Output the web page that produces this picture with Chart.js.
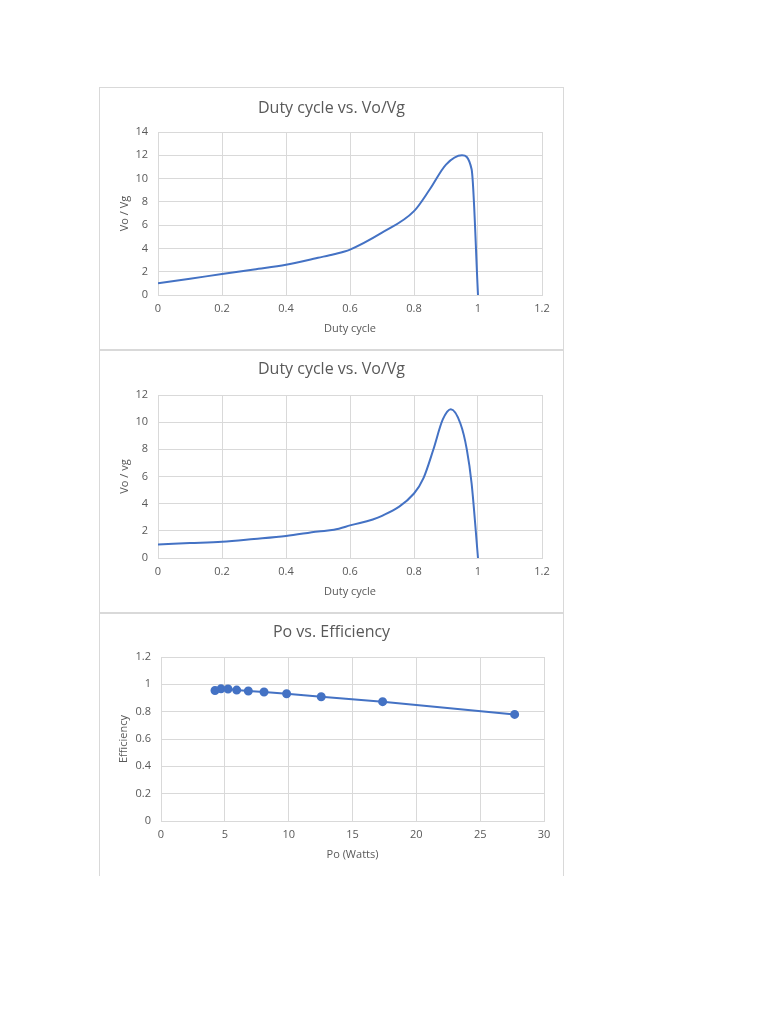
<!DOCTYPE html>
<html>
<head>
<meta charset="utf-8">
<script src="https://cdn.jsdelivr.net/npm/chart.js@4"></script>
<style>
  body { margin: 0; background: #fff; }
  .frame { position: absolute; left: 99px; width: 465px; height: 263px; box-sizing: border-box;
           border: 1px solid #d9d9d9; }
  .holder { position: absolute; left: 99px; width: 465px; height: 263px; }
</style>
</head>
<body>
<div class="frame" style="top:87px"></div>
<div class="frame" style="top:350px"></div>
<div class="frame" style="top:613px; border-bottom:none"></div>
<div class="holder" style="top:87px"><canvas id="chart1" width="465" height="263"></canvas></div>
<div class="holder" style="top:350px"><canvas id="chart2" width="465" height="263"></canvas></div>
<div class="holder" style="top:613px"><canvas id="chart3" width="465" height="263"></canvas></div>
<script>
// chart 1: Duty cycle vs Vo/Vg
const duty1 = [0, 0.1, 0.2, 0.3, 0.4, 0.5, 0.55, 0.6, 0.7, 0.8, 0.85, 0.9, 0.95, 0.98, 1];
const gain1 = [1.0, 1.4, 1.8, 2.2, 2.6, 3.2, 3.5, 3.9, 5.35, 7.2, 9.1, 11.2, 12.0, 10.8, 0];

// chart 2: Duty cycle vs Vo/Vg (second case)
const duty2 = [0, 0.1, 0.2, 0.3, 0.4, 0.5, 0.55, 0.6, 0.7, 0.8, 0.83, 0.86, 0.89, 0.915, 0.945, 0.965, 0.98, 1];
const gain2 = [1.0, 1.1, 1.2, 1.4, 1.62, 1.95, 2.08, 2.4, 3.1, 4.75, 5.9, 7.95, 10.2, 10.95, 9.9, 8.0, 5.5, 0];

// chart 3: Po vs efficiency
const powerOut = [4.23, 4.7, 5.25, 5.93, 6.84, 8.07, 9.84, 12.55, 17.36, 27.7];
const efficiency = [0.955, 0.967, 0.966, 0.958, 0.951, 0.944, 0.931, 0.909, 0.873, 0.78];

const lineBlue = '#4472c4';
const textGray = '#595959';
const gridGray = '#d9d9d9';
const fontFamily = '"Open Sans", "Noto Sans", sans-serif';

const toPoints = (xs, ys) => xs.map((x, i) => ({ x: x, y: ys[i] }));
const fmt = v => String(Math.round(v * 10) / 10);

function makeChart(id, cfg) {
  const ctx = document.getElementById(id).getContext('2d');
  const titleSize = 16;
  return new Chart(ctx, {
    type: 'scatter',
    data: {
      datasets: [{
        data: cfg.points,
        showLine: true,
        borderColor: lineBlue,
        backgroundColor: lineBlue,
        borderWidth: 2,
        pointRadius: cfg.markers ? 3.5 : 0,
        pointHoverRadius: 0,
        cubicInterpolationMode: cfg.smooth ? 'monotone' : 'default',
        tension: 0
      }]
    },
    options: {
      responsive: false,
      animation: false,
      layout: { padding: 0 },
      plugins: {
        legend: { display: false },
        tooltip: { enabled: false },
        title: {
          display: true,
          text: cfg.title,
          color: textGray,
          font: { family: fontFamily, size: titleSize, weight: 'normal' },
          padding: { top: cfg.titleTop, bottom: cfg.plotTop - cfg.titleTop - titleSize * 1.2 }
        }
      },
      scales: {
        x: {
          type: 'linear',
          min: cfg.xMin, max: cfg.xMax,
          ticks: { stepSize: cfg.xStep, color: textGray, padding: 7,
                   font: { family: fontFamily, size: 11 }, callback: fmt },
          grid: { color: gridGray, drawTicks: false },
          border: { color: gridGray },
          title: { display: true, text: cfg.xTitle, color: textGray,
                   font: { family: fontFamily, size: 11 }, padding: { top: 0, bottom: 15 } },
          afterFit: s => { s.height = 263 - 208; }
        },
        y: {
          type: 'linear',
          min: cfg.yMin, max: cfg.yMax,
          ticks: { stepSize: cfg.yStep, color: textGray, padding: 10,
                   font: { family: fontFamily, size: 11 }, callback: fmt },
          grid: { color: gridGray, drawTicks: false },
          border: { color: gridGray },
          title: { display: true, text: cfg.yTitle, color: textGray,
                   font: { family: fontFamily, size: 11 }, padding: { top: cfg.yTitlePad, bottom: 0 } },
          afterFit: s => { s.width = cfg.left; }
        },
        // empty right-hand spacer so the title stays centred on the whole frame
        spacer: {
          type: 'linear',
          position: 'right',
          grid: { display: false },
          border: { display: false },
          ticks: { display: false },
          afterFit: s => { s.width = cfg.right; }
        }
      }
    }
  });
}

makeChart('chart1', {
  points: toPoints(duty1, gain1), smooth: true, markers: false,
  title: 'Duty cycle vs. Vo/Vg', titleTop: 11.5, plotTop: 45,
  xMin: 0, xMax: 1.2, xStep: 0.2, xTitle: 'Duty cycle',
  yMin: 0, yMax: 14, yStep: 2, yTitle: 'Vo / Vg',
  left: 59, right: 22, yTitlePad: 19
});

makeChart('chart2', {
  points: toPoints(duty2, gain2), smooth: true, markers: false,
  title: 'Duty cycle vs. Vo/Vg', titleTop: 9.5, plotTop: 45,
  xMin: 0, xMax: 1.2, xStep: 0.2, xTitle: 'Duty cycle',
  yMin: 0, yMax: 12, yStep: 2, yTitle: 'Vo / vg',
  left: 59, right: 22, yTitlePad: 19
});

makeChart('chart3', {
  points: toPoints(powerOut, efficiency), smooth: false, markers: true,
  title: 'Po vs. Efficiency', titleTop: 9.5, plotTop: 44,
  xMin: 0, xMax: 30, xStep: 5, xTitle: 'Po (Watts)',
  yMin: 0, yMax: 1.2, yStep: 0.2, yTitle: 'Efficiency',
  left: 62, right: 20, yTitlePad: 18
});
</script>
</body>
</html>
